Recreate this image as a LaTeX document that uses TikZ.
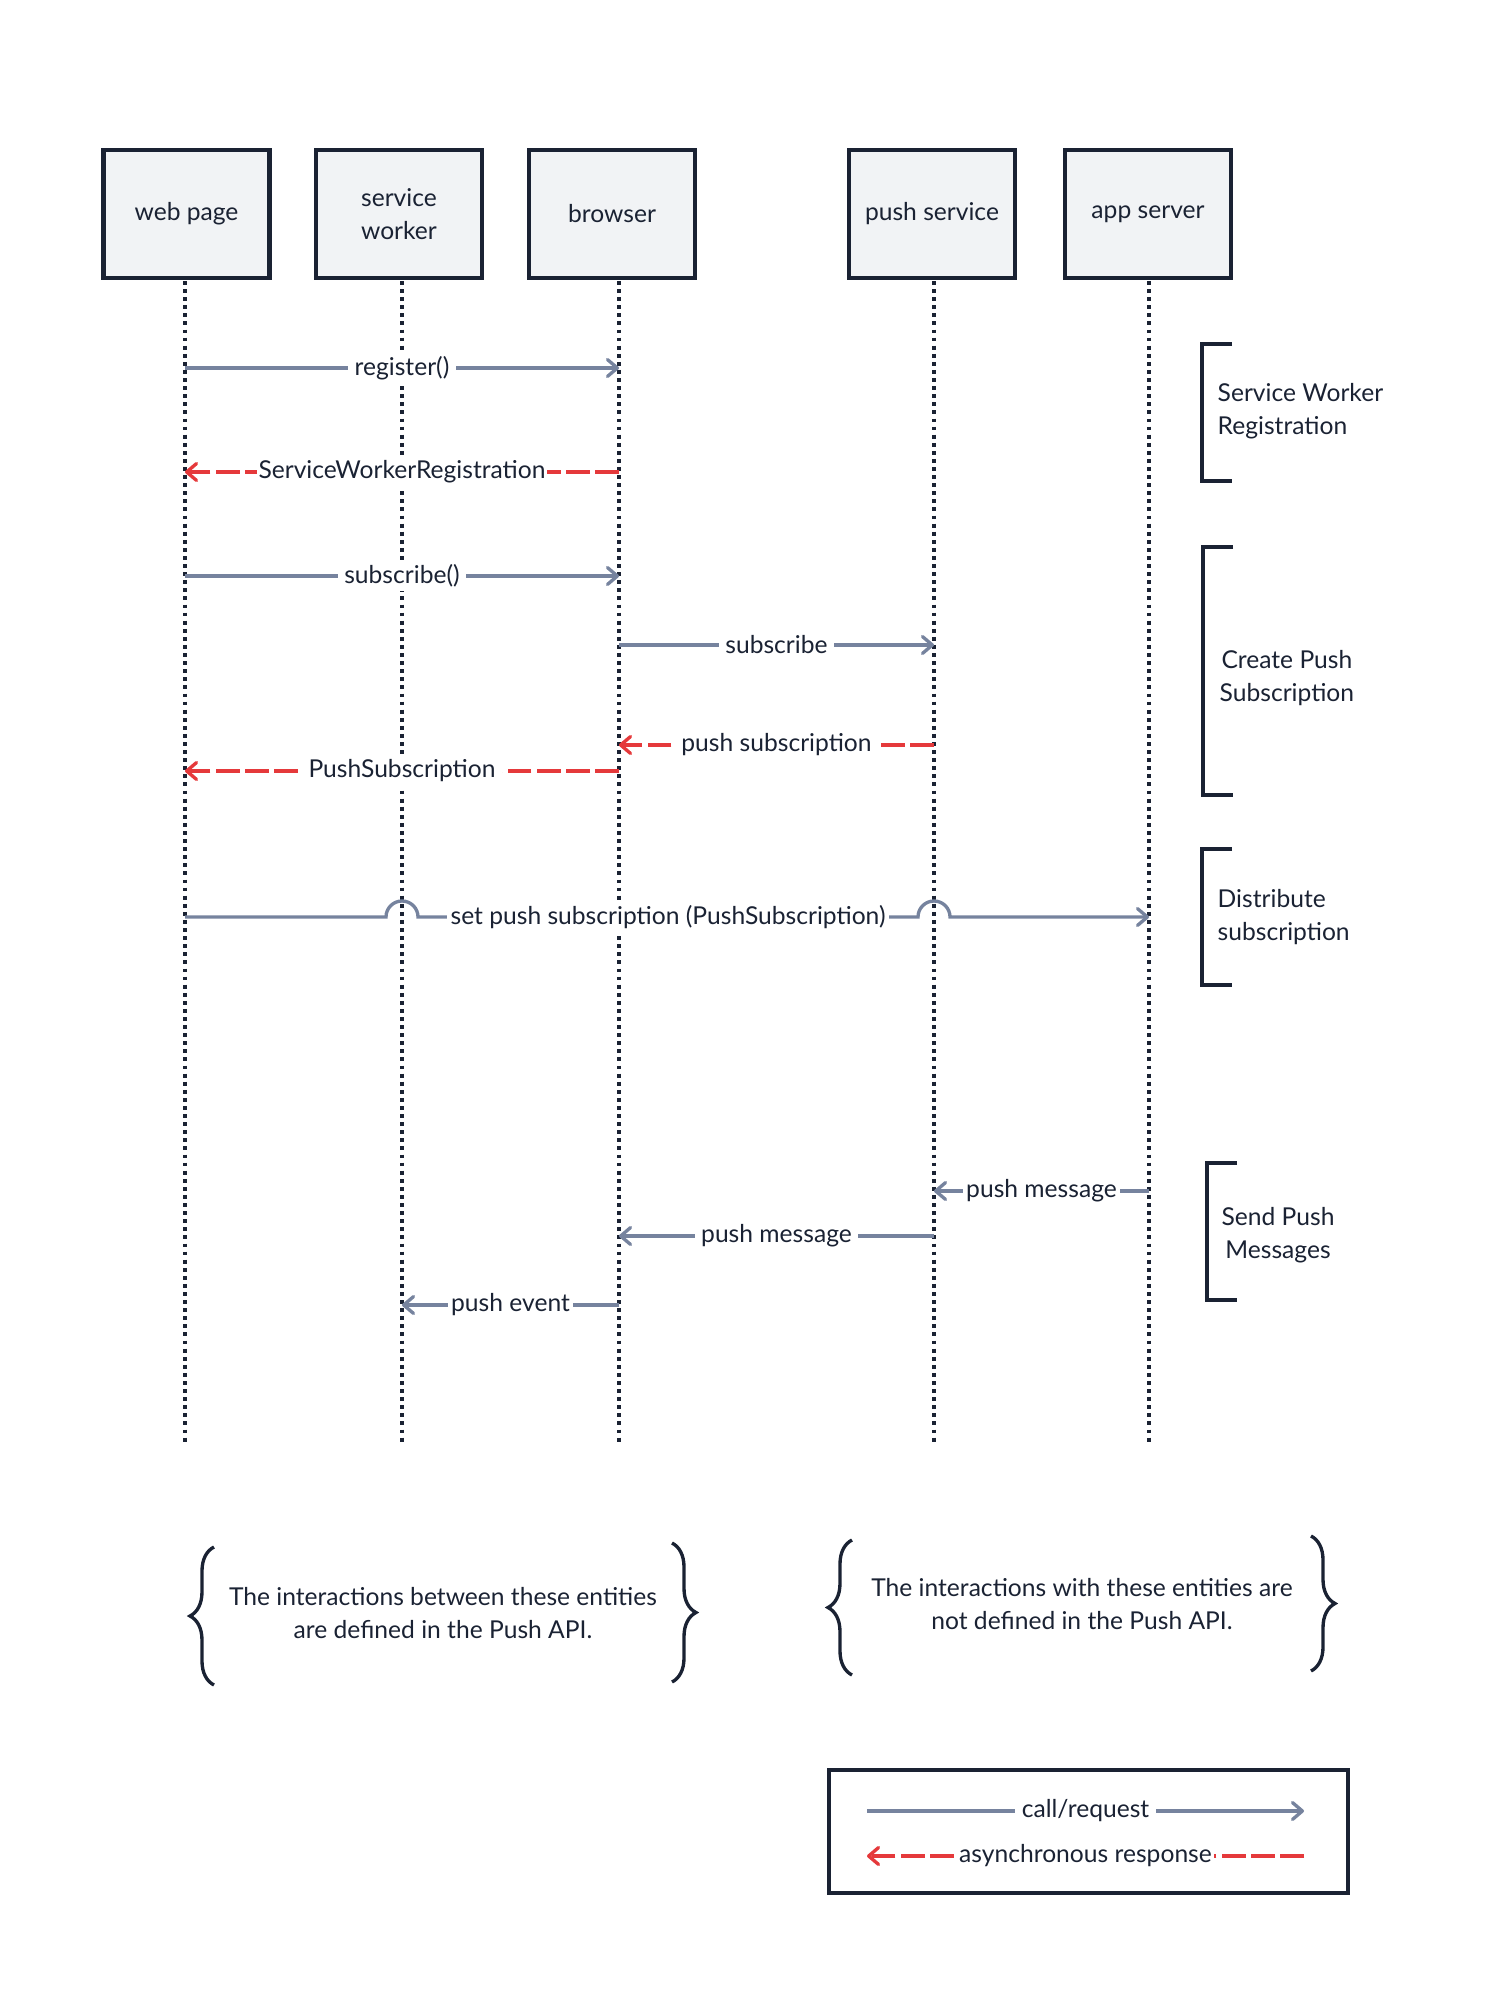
\documentclass[tikz,border=0pt]{standalone}
\usepackage{fontspec}
\setmainfont{Lato}
\usetikzlibrary{arrows.meta,decorations.pathreplacing}
\definecolor{ink}{HTML}{1A2233}
\definecolor{callc}{RGB}{118,131,158}
\definecolor{respc}{RGB}{229,57,59}
\definecolor{boxfill}{HTML}{F1F3F5}
\begin{document}
\begin{tikzpicture}[x=0.01cm,y=-0.01cm,
  actor/.style={draw=ink, line width=1.3pt, fill=boxfill, minimum width=1.66cm, minimum height=1.28cm, inner sep=0pt, align=center, font=\fontsize{7}{9.2}\selectfont, text=ink},
  life/.style={draw=ink, line width=1.05pt, dash pattern=on 1.1pt off 1.2pt},
  tipc/.style={-{Straight Barb[length=2.8pt,width=4.8pt,line cap=round,line join=round]}},
  call/.style={draw=callc, line width=0.95pt, tipc},
  resp/.style={draw=respc, line width=0.95pt, dash pattern=on 6.7pt off 1.6pt, tipc},
  lbl/.style={fill=white, inner xsep=1.8pt, inner ysep=1pt, font=\fontsize{7}{8}\selectfont, text=ink},
  side/.style={align=left, font=\fontsize{7}{9.4}\selectfont, text=ink, inner sep=0pt},
  note/.style={align=center, font=\fontsize{7}{9.4}\selectfont, text=ink, inner sep=0pt},
  bracket/.style={draw=ink, line width=0.95pt},
  brc/.style={draw=ink, line width=0.95pt, decorate, decoration={brace, amplitude=0.24cm}},
]
\useasboundingbox (0,0) rectangle (1500,2000);

% actors
\node[actor] (wp) at (186.5,214) {web page};
\node[actor] (sw) at (399,214) {service\\worker};
\node[actor] (br) at (612,214) {browser};
\node[actor] (ps) at (932,214) {push service};
\node[actor] (as) at (1148,214) {app server};

% lifeline coordinates
\coordinate (wpL) at (185,281);
\coordinate (swL) at (402,281);
\coordinate (brL) at (619,281);
\coordinate (psL) at (934,281);
\coordinate (asL) at (1149,281);
\coordinate (wpE) at (185,1444);
\coordinate (swE) at (402,1444);
\coordinate (brE) at (619,1444);
\coordinate (psE) at (934,1444);
\coordinate (asE) at (1149,1444);
\draw[life] (wpL) -- (wpE);
\draw[life] (swL) -- (swE);
\draw[life] (brL) -- (brE);
\draw[life] (psL) -- (psE);
\draw[life] (asL) -- (asE);

% messages
\draw[call] (wpL |- 0,368) -- node[lbl] {register()} (brL |- 0,368);
\draw[resp] (brL |- 0,472) -- node[lbl, inner xsep=0.5pt] {ServiceWorkerRegistration} (wpL |- 0,472);
\draw[call] (wpL |- 0,576) -- node[lbl] {subscribe()} (brL |- 0,576);
\draw[call] (brL |- 0,645) -- node[lbl] {subscribe} (psL |- 0,645);
\draw[resp] (psL |- 0,745) -- node[lbl] {push subscription} (brL |- 0,745);
\draw[resp] (brL |- 0,771) -- node[lbl] {PushSubscription} (wpL |- 0,771);
\draw[call] (wpL |- 0,917) -- (386,917) arc[start angle=180,end angle=0,radius=0.16cm]
   -- node[lbl, inner xsep=1pt] {set push subscription (PushSubscription)} (918,917)
   arc[start angle=180,end angle=0,radius=0.16cm] -- (asL |- 0,917);
\draw[call] (asL |- 0,1191) -- node[lbl, inner xsep=1pt] {push message} (psL |- 0,1191);
\draw[call] (psL |- 0,1236) -- node[lbl] {push message} (brL |- 0,1236);
\draw[call] (brL |- 0,1305) -- node[lbl, inner xsep=1pt] {push event} (swL |- 0,1305);

% right brackets
\draw[bracket] (1232,344) -- (1202,344) -- (1202,481) -- (1232,481);
\node[side, anchor=west] (t1) at (1217,411) {Service Worker\\Registration};
\draw[bracket] (1233,547) -- (1203,547) -- (1203,795) -- (1233,795);
\node[side, anchor=west, align=center] (t2) at (1219,678) {Create Push\\Subscription};
\draw[bracket] (1232,849) -- (1202,849) -- (1202,985) -- (1232,985);
\node[side, anchor=west] (t3) at (1217,917) {Distribute\\subscription};
\draw[bracket] (1237,1163) -- (1207,1163) -- (1207,1300) -- (1237,1300);
\node[note] (t4) at (1278,1235) {Send Push\\Messages};

% bottom notes with braces
\draw[brc] (214,1685) -- (214,1547);
\draw[brc] (672,1543) -- (672,1682);
\node[note] (n1) at (443,1613) {The interactions between these entities\\are defined in the Push API.};
\draw[brc] (852,1675) -- (852,1540);
\draw[brc] (1311,1536) -- (1311,1671);
\node[note] (n2) at (1082,1604) {The interactions with these entities are\\not defined in the Push API.};

% legend
\node[draw=ink, line width=1.3pt, fill=white, minimum width=5.19cm, minimum height=1.23cm] (lg) at (1088.5,1831.5) {};
\coordinate (lgA) at (867,1811);
\coordinate (lgB) at (1304,1811);
\coordinate (lgC) at (1304,1856);
\coordinate (lgD) at (867,1856);
\draw[call] (lgA) -- node[lbl] {call/request} (lgB);
\draw[resp] (lgC) -- node[lbl, inner xsep=0.5pt] {asynchronous response} (lgD);
\end{tikzpicture}
\end{document}
